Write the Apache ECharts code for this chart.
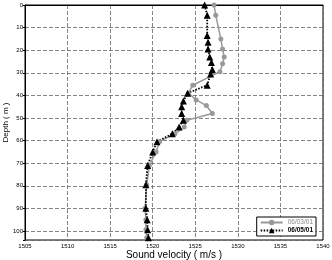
<!DOCTYPE html>
<html>
<head>
<meta charset="utf-8">
<script src="https://cdn.jsdelivr.net/npm/echarts@6/dist/echarts.min.js"></script>
<style>html,body{margin:0;padding:0;background:#fff}#c{width:332px;height:260px}</style>
</head>
<body>
<div id="c"></div>
<script>
var xTicks = [1505, 1510, 1515, 1520, 1525, 1530, 1535, 1540];
var yTicks = [0, 10, 20, 30, 40, 50, 60, 70, 80, 90, 100];
var seriesNames = ['06/03/01', '06/05/01'];
var depthA = [0, 4.5, 15, 19.5, 23, 26, 29.5, 35.5, 39, 42, 44.5, 48, 51, 54, 57, 60.5, 65, 71, 79.5, 90, 95, 99.5, 103];
var velA = [1527.2, 1527.4, 1528.0, 1528.2, 1528.4, 1528.2, 1527.9, 1524.7, 1524.2, 1525.1, 1526.3, 1527.0, 1524.0, 1523.7, 1522.6, 1520.8, 1520.4, 1519.6, 1519.3, 1519.1, 1519.2, 1519.2, 1519.3];
var depthB = [0, 4.5, 13.5, 16.5, 19.5, 23, 25.5, 28.5, 30.5, 35.5, 39, 42.5, 45, 48, 51, 54, 57, 60.5, 65, 71, 79.5, 90, 95, 99.5, 103];
var velB = [1526.1, 1526.4, 1526.4, 1526.5, 1526.5, 1526.7, 1526.9, 1527.0, 1526.8, 1526.4, 1524.1, 1523.6, 1523.4, 1523.4, 1523.6, 1523.1, 1522.3, 1520.5, 1520.0, 1519.4, 1519.2, 1519.2, 1519.35, 1519.4, 1519.5];

function pairs(v, d) { return v.map(function (x, i) { return [x, d[i]]; }); }

var chart = echarts.init(document.getElementById('c'), null, {renderer: 'canvas'});
var font = 'Liberation Sans, Arial, sans-serif';
chart.setOption({
  animation: false,
  textStyle: {fontFamily: font},
  grid: {left: 25, right: 9, top: 5, bottom: 20, containLabel: false, outerBoundsMode: 'none',
         show: true, borderColor: '#000', borderWidth: 1, backgroundColor: 'transparent'},
  legend: {
    right: 16, bottom: 24, orient: 'vertical', itemGap: 1, itemWidth: 22, itemHeight: 7,
    padding: [2, 3, 2, 3], borderColor: '#000', borderWidth: 1, backgroundColor: '#fff',
    textStyle: {fontSize: 6.5, fontFamily: font},
    data: [
      {name: seriesNames[0], textStyle: {color: '#888'}},
      {name: seriesNames[1], textStyle: {color: '#000', fontWeight: 'bold'}}
    ]
  },
  xAxis: {
    type: 'value', min: 1505, max: 1540, interval: 5,
    name: 'Sound velocity ( m/s )', nameLocation: 'middle', nameGap: 10, nameMoveOverlap: false,
    nameTextStyle: {fontSize: 10, color: '#000', fontFamily: font},
    axisLine: {show: true, lineStyle: {color: '#000'}},
    axisTick: {show: false},
    axisLabel: {fontSize: 6, color: '#000', margin: 3, formatter: function (v) { return xTicks.indexOf(v) >= 0 ? String(v) : ''; }},
    splitLine: {show: true, lineStyle: {color: '#666', type: [4, 2], width: 0.8}}
  },
  yAxis: {
    type: 'value', inverse: true, min: 0, max: 104, interval: 10,
    name: 'Depth ( m )', nameLocation: 'middle', nameGap: 15, nameMoveOverlap: false,
    nameTextStyle: {fontSize: 8, color: '#000', fontFamily: font},
    axisLine: {show: true, lineStyle: {color: '#000'}},
    axisTick: {show: true, inside: false, length: 2, lineStyle: {color: '#000'}},
    axisLabel: {fontSize: 6, color: '#000', margin: 2, formatter: function (v) { return yTicks.indexOf(v) >= 0 ? String(v) : ''; }},
    splitLine: {show: true, lineStyle: {color: '#666', type: [4, 2], width: 0.8}}
  },
  series: [
    {
      name: seriesNames[0], type: 'line', data: pairs(velA, depthA),
      symbol: 'circle', symbolSize: 5,
      lineStyle: {color: '#999', width: 1.5},
      itemStyle: {color: '#999'}
    },
    {
      name: seriesNames[1], type: 'line', data: pairs(velB, depthB),
      symbol: 'triangle', symbolSize: 7,
      lineStyle: {color: '#000', width: 1.8, type: [1.5, 1.5]},
      itemStyle: {color: '#000'}
    }
  ]
});
</script>
</body>
</html>
